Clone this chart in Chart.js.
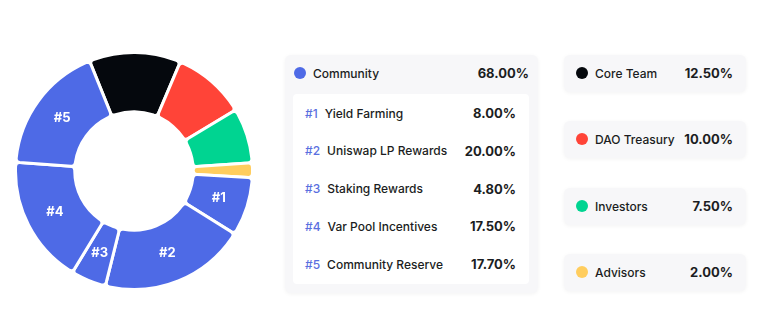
<!DOCTYPE html>
<html>
<head>
<meta charset="utf-8">
<script src="https://cdn.jsdelivr.net/npm/chart.js@4"></script>
<style>
  body { margin: 0; width: 768px; height: 335px; background: #fff; font-family: Inter, "Noto Sans", sans-serif; color: #1b1d22; overflow: hidden; position: relative; }
  #chartBox { position: absolute; left: 14px; top: 51px; width: 240px; height: 240px; }
  .panel { position: absolute; background: #f7f7f9; border-radius: 6px; box-shadow: 0 1px 4px rgba(0,0,0,0.05); }
  .row { position: absolute; left: 0; right: 0; height: 20px; display: flex; align-items: center; font-size: 12px; font-weight: 500; }
  .dot { width: 12px; height: 12px; border-radius: 50%; margin-right: 7px; flex: none; }
  .pct { margin-left: auto; font-weight: 700; font-size: 13px; }
  .num { color: #5a6fe0; margin-right: 7px; }
  #inner { position: absolute; left: 8px; top: 39px; width: 236px; height: 190px; background: #fff; border-radius: 4px; }
</style>
</head>
<body>
<div id="chartBox"><canvas id="myChart"></canvas></div>
<div class="panel" id="community" style="left:285px;top:55px;width:253px;height:238px;"></div>
<div id="side"></div>
<script>
// top level groups
let groupLabels = ['Community', 'Core Team', 'DAO Treasury', 'Investors', 'Advisors'];
let groupValues = [68.00, 12.50, 10.00, 7.50, 2.00];
let groupColors = ['#4e6ae6', '#05080d', '#ff4438', '#00d491', '#ffcd5e'];

// community breakdown
let subTags = ['#1', '#2', '#3', '#4', '#5'];
let subLabels = ['Yield Farming', 'Uniswap LP Rewards', 'Staking Rewards', 'Var Pool Incentives', 'Community Reserve'];
let subValues = [8.00, 20.00, 4.80, 17.50, 17.70];

// doughnut slices: other groups first then community parts
let sliceValues = groupValues.slice(1).concat(subValues);
let sliceColors = groupColors.slice(1).concat(subValues.map(() => groupColors[0]));
let sliceTags = ['', '', '', ''].concat(subTags);

const tagPlugin = {
    id: 'tags',
    afterDatasetsDraw(chart) {
        let ctx = chart.ctx;
        let meta = chart.getDatasetMeta(0);
        ctx.save();
        ctx.fillStyle = '#fff';
        ctx.font = '700 13px Inter, sans-serif';
        ctx.textAlign = 'center';
        ctx.textBaseline = 'middle';
        meta.data.forEach((arc, i) => {
            if (!sliceTags[i]) return;
            let p = arc.tooltipPosition();
            ctx.fillText(sliceTags[i], p.x, p.y);
        });
        ctx.restore();
    }
};

let ctx = document.getElementById('myChart').getContext('2d');
new Chart(ctx, {
    type: 'doughnut',
    data: {
        labels: ['Core Team', 'DAO Treasury', 'Investors', 'Advisors'].concat(subLabels),
        datasets: [{
            data: sliceValues,
            backgroundColor: sliceColors,
            borderColor: '#fff',
            borderWidth: 3,
            borderRadius: 4
        }]
    },
    options: {
        responsive: true,
        maintainAspectRatio: false,
        animation: false,
        rotation: -22,
        cutout: '50%',
        layout: { padding: 0 },
        plugins: {
            legend: { display: false },
            tooltip: { enabled: false }
        }
    },
    plugins: [tagPlugin]
});

function fmt(v) {
    return v.toFixed(2) + '%';
}

// community panel
let comm = document.getElementById('community');
let head = document.createElement('div');
head.className = 'row';
head.style.top = '8px';
head.style.padding = '0 9px 0 9px';
head.innerHTML = "<span class='dot' style='background:" + groupColors[0] + "'></span><span>" + groupLabels[0] + "</span><span class='pct'>" + fmt(groupValues[0]) + "</span>";
comm.appendChild(head);
let inner = document.createElement('div');
inner.id = 'inner';
comm.appendChild(inner);
for (let i = 0; i < subLabels.length; i++) {
    let r = document.createElement('div');
    r.className = 'row';
    r.style.top = (9 + i * 37.75) + 'px';
    r.style.padding = '0 13px 0 12px';
    r.innerHTML = "<span class='num'>" + subTags[i] + "</span><span>" + subLabels[i] + "</span><span class='pct'>" + fmt(subValues[i]) + "</span>";
    inner.appendChild(r);
}

// side panels
let tops = [55, 121, 188, 254];
let side = document.getElementById('side');
for (let i = 1; i < groupLabels.length; i++) {
    let p = document.createElement('div');
    p.className = 'panel';
    p.style.left = '564px';
    p.style.top = tops[i - 1] + 'px';
    p.style.width = '182px';
    p.style.height = '37px';
    let r = document.createElement('div');
    r.className = 'row';
    r.style.top = '8px';
    r.style.padding = '0 13px 0 12px';
    r.innerHTML = "<span class='dot' style='background:" + groupColors[i] + "'></span><span>" + groupLabels[i] + "</span><span class='pct'>" + fmt(groupValues[i]) + "</span>";
    p.appendChild(r);
    side.appendChild(p);
}
</script>
</body>
</html>
